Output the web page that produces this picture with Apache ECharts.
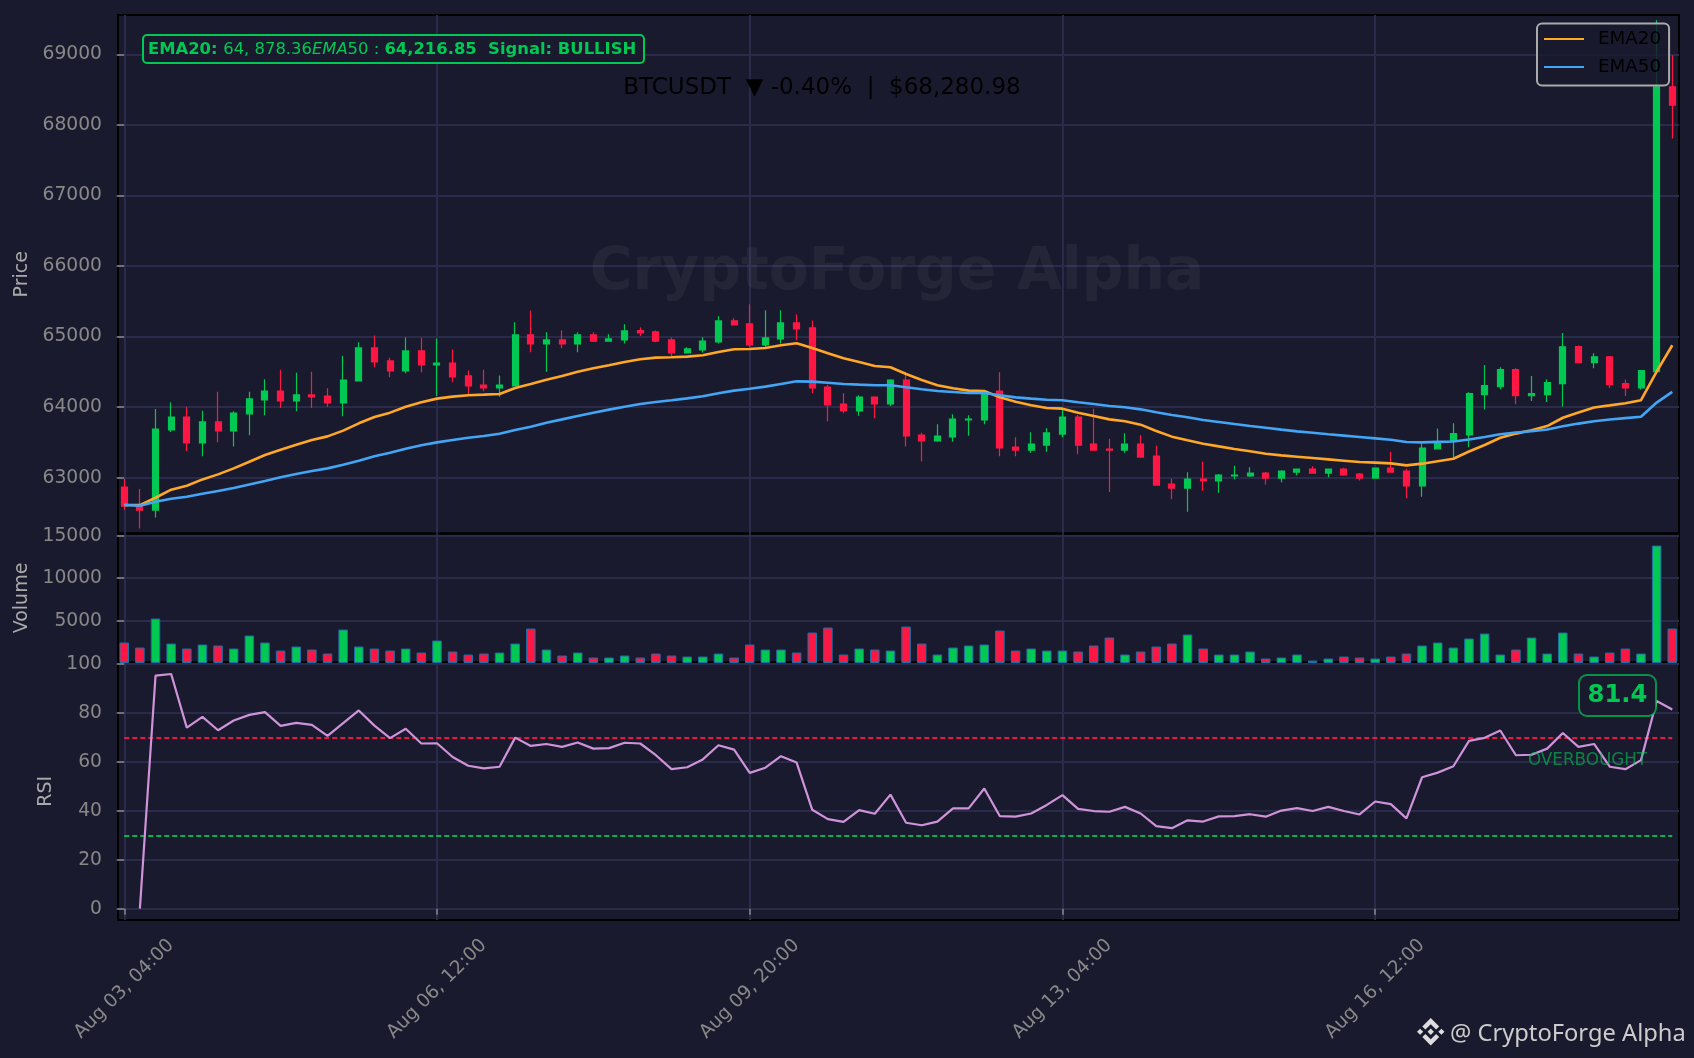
<!DOCTYPE html>
<html><head><meta charset="utf-8">
<style>html,body{margin:0;padding:0;background:#1a1a2e}#c{width:1694px;height:1058px}</style>
<script src="https://cdn.jsdelivr.net/npm/echarts@6/dist/echarts.min.js"></script>
</head><body><div id="c"></div>
<script>
const tickIndexes = [0, 20, 40, 60, 80];
const tickLabels = ['Aug 03, 04:00', 'Aug 06, 12:00', 'Aug 09, 20:00', 'Aug 13, 04:00', 'Aug 16, 12:00'];
const opens = [62868,62612,62541,63676,63860,63492,63790,63662,63903,64102,64229,64087,64173,64158,64059,64371,64839,64655,64513,64797,64598,64626,64442,64314,64272,64300,65024,64896,64953,64896,65024,64934,64953,65085,65066,64953,64768,64811,64924,65222,65180,64882,64967,65194,65123,64286,64045,63946,64144,64045,64385,63605,63520,63577,63818,63818,64229,63435,63392,63463,63619,63860,63478,63407,63392,63478,63307,62910,62853,62981,62953,63024,63024,63066,62995,63080,63123,63066,63123,63052,62995,63137,63095,62882,63410,63518,63605,64177,64289,64533,64162,64177,64333,64860,64631,64714,64333,64274,64504,68542];
const closes = [62598,62541,63690,63860,63492,63790,63662,63917,64116,64229,64087,64173,64144,64059,64385,64839,64641,64513,64797,64598,64626,64428,64300,64272,64314,65024,64896,64953,64896,65024,64934,64967,65080,65052,64934,64768,64825,64938,65222,65165,64882,64981,65194,65109,64272,64031,63946,64144,64045,64385,63591,63520,63591,63832,63832,64187,63421,63392,63478,63634,63860,63463,63392,63392,63478,63293,62896,62853,62981,62953,63038,63038,63066,62995,63095,63123,63066,63123,63038,62995,63137,63080,62882,63421,63503,63625,64191,64304,64533,64162,64191,64348,64856,64631,64714,64318,64274,64519,68542,68281];
const lows = [62541,62281,62437,63648,63374,63303,63501,63444,63600,63884,63988,63941,63988,64007,63870,64365,64565,64423,64480,64494,64158,64352,64173,64225,64149,64295,64778,64503,64834,64778,64924,64929,64901,65009,64920,64721,64759,64773,64901,65160,64849,64849,64901,64948,64196,63799,63913,63879,63842,64017,63444,63232,63515,63511,63596,63756,63303,63303,63355,63369,63572,63331,63388,62797,63355,63284,62892,62693,62518,62816,62787,62976,63009,62905,62934,63033,63061,63005,63028,62962,62991,63075,62707,62731,63405,63283,63430,63967,64255,64040,64089,64074,64011,64625,64553,64270,64157,64245,64500,67810];
const highs = [62981,62839,63974,64069,64007,63950,64220,63941,64220,64395,64532,64489,64503,64267,64730,64920,65014,64702,64986,64981,64972,64816,64518,64532,64447,65203,65369,65061,65085,65061,65061,65033,65175,65132,65085,64986,64849,64990,65288,65260,65459,65373,65373,65317,65227,64319,64196,64168,64154,64395,64503,63638,63756,63898,63884,64196,64494,63572,63643,63700,63960,63889,63979,63553,63629,63600,63454,62986,63076,63227,63052,63170,63147,63080,63104,63130,63161,63132,63142,63066,63137,63369,63128,63487,63698,63772,64211,64597,64567,64553,64440,64397,65051,64875,64763,64724,64392,64524,69485,68987];
const ema20 = [62612,62612,62716,62830,62887,62976,63047,63132,63227,63322,63397,63468,63534,63586,63667,63771,63860,63922,64007,64069,64121,64149,64168,64177,64187,64272,64329,64390,64442,64503,64551,64593,64641,64678,64702,64707,64716,64735,64782,64820,64825,64839,64877,64905,64839,64764,64693,64641,64584,64565,64470,64385,64310,64267,64234,64229,64139,64078,64026,63988,63979,63922,63875,63827,63799,63752,63662,63582,63530,63482,63444,63407,63374,63340,63317,63298,63279,63260,63241,63222,63213,63203,63175,63199,63234,63269,63371,63464,63566,63625,63674,63732,63850,63923,63996,64025,64055,64099,64504,64878];
const ema50 = [62612,62603,62660,62702,62731,62773,62811,62853,62905,62953,63005,63052,63095,63132,63184,63241,63303,63355,63411,63459,63501,63534,63567,63591,63624,63676,63723,63780,63827,63875,63922,63965,64007,64045,64073,64097,64125,64154,64196,64234,64262,64291,64329,64366,64362,64347,64329,64319,64310,64310,64281,64253,64229,64215,64201,64201,64168,64139,64121,64106,64097,64069,64045,64017,63998,63969,63927,63889,63856,63818,63790,63761,63733,63709,63681,63657,63638,63615,63596,63577,63558,63539,63506,63501,63508,63513,63542,63576,63615,63640,63659,63684,63728,63767,63801,63825,63845,63864,64065,64217];
const volumes = [2430,1842,5253,2313,1725,2195,2078,1725,3254,2430,1490,1960,1607,1137,3959,1960,1725,1490,1725,1254,2666,1372,1019,1137,1254,2313,4077,1607,902,1254,666,666,902,666,1137,902,784,784,1137,666,2195,1607,1607,1254,3606,4194,1019,1725,1607,1490,4312,2313,1019,1842,2078,2195,3842,1490,1725,1490,1490,1372,2078,3018,1019,1372,1960,2313,3371,1725,1019,1019,1372,549,666,1019,314,549,784,666,549,784,1137,2078,2430,1842,2901,3489,1019,1607,3018,1137,3606,1137,784,1254,1725,1137,13838,4077];
const rsi = [null,0,95.2,95.9,74.0,78.4,72.9,76.9,79.2,80.3,74.7,75.9,75.1,70.6,75.8,81.0,74.8,69.7,73.5,67.5,67.6,62.0,58.4,57.3,58.0,69.9,66.5,67.3,66.1,67.9,65.4,65.6,67.8,67.5,62.7,57.0,57.8,61.0,66.8,65.0,55.5,57.6,62.3,59.7,40.4,36.6,35.5,40.3,38.8,46.6,35.1,34.1,35.6,41.0,41.0,49.1,37.8,37.6,38.9,42.4,46.4,40.8,39.9,39.6,41.6,38.9,33.7,32.9,36.1,35.6,37.7,37.8,38.6,37.6,40.1,41.1,39.9,41.6,39.9,38.5,43.8,42.7,36.9,53.7,55.6,58.2,68.6,69.8,72.8,62.7,62.9,65.4,71.8,66.1,67.3,58.0,57.0,60.7,84.9,81.4];
const priceTicks = [63000,64000,65000,66000,67000,68000,69000];
const volumeTicks = [5000,10000,15000];
const rsiTicks = [0,20,40,60,80,100];
const rsiLevels = [70, 30];
const titleText = 'BTCUSDT  ▼ -0.40%  |  $68,280.98';

const UP='#00c853', DOWN='#ff1744', BG='#1a1a2e', GRID='#2a2a4a', TICK='#888888', NAME='#aaaaaa', FF='"DejaVu Sans"';
const chart = echarts.init(document.getElementById('c'), null, {renderer:'canvas', width:1694, height:1058});
const xBase = {type:'value', min:-0.4, max:99.43, axisLine:{show:false},
  splitLine:{show:true, lineStyle:{color:GRID, width:2}}};
const xAxes = [0,1,2].map(g => Object.assign({}, xBase, {gridIndex:g,
  axisTick: g===2 ? {show:true, length:6, lineStyle:{color:TICK, width:1.5}, customValues:tickIndexes} : {show:false, customValues:tickIndexes},
  axisLabel: g===2 ? {show:true, customValues:tickIndexes, rotate:45, align:'center', verticalAlign:'middle', margin:69, color:TICK, fontFamily:FF, fontSize:18.7,
      formatter:v=>tickLabels[tickIndexes.indexOf(v)]} : {show:false}
}));
const yAxis = (g,min,max,ticks,name,gap)=>({type:'value', gridIndex:g, min, max, axisLine:{show:false},
  name, nameLocation:'middle', nameGap:gap, nameTextStyle:{color:NAME, fontFamily:FF, fontSize:19},
  axisTick:{show:true, length:7.5, lineStyle:{color:TICK, width:1.5}, customValues:ticks},
  axisLabel:{show:true, customValues:ticks, margin:16, color:TICK, fontFamily:FF, fontSize:18.7, padding:[4,0,0,0], formatter:v=>String(v)},
  splitLine:{show:true, lineStyle:{color:GRID, width:2}}});
const idx = opens.map((_,i)=>i);
const pair = a => a.map((v,i)=>[i,v]);
const gridBase = {show:true, left:118, width:1561, borderColor:'#000', borderWidth:2, backgroundColor:'transparent', containLabel:false};
const logoShapes = [
 [[38.73,53.2],[63.32,28.62],[87.92,53.22],[102.22,38.91],[63.32,0],[24.42,38.9]],
 [[0,63.31],[14.3,49],[28.61,63.31],[14.3,77.61]],
 [[38.73,73.41],[63.32,98],[87.92,73.4],[102.23,87.69],[63.33,126.6],[24.42,87.72]],
 [[98,63.31],[112.3,49],[126.61,63.3],[112.3,77.62]],
 [[77.83,63.3],[63.32,48.78],[48.81,63.28],[63.32,77.78]]
];
chart.setOption({
  animation:false, backgroundColor:BG,
  textStyle:{fontFamily:FF},
  grid:[Object.assign({top:15,height:518.5},gridBase),Object.assign({top:533.5,height:129},gridBase),Object.assign({top:662.5,height:257.5},gridBase)],
  xAxis:xAxes,
  yAxis:[yAxis(0,62209,69559,priceTicks,'Price',84),yAxis(1,82,15259,volumeTicks,'Volume',84),yAxis(2,-4.63,100.6,rsiTicks,'RSI',61)],
  legend:{left:1537,top:23.5,orient:'vertical',data:['EMA20','EMA50'],icon:'path://M0 0H40V2.2H0Z',itemWidth:40,itemHeight:2.2,itemGap:7,padding:[5,8,8,7],
    backgroundColor:'rgba(26,26,46,0.85)',borderColor:'#aaaaaa',borderWidth:2,borderRadius:5,
    textStyle:{color:'#000',fontFamily:FF,fontSize:18.3,padding:[0,0,0,9],height:21,lineHeight:21},z:50},
  series:[
    {type:'candlestick',name:'BTCUSDT',xAxisIndex:0,yAxisIndex:0,barWidth:6.5,z:2,
     itemStyle:{color:UP,color0:DOWN,borderColor:UP,borderColor0:DOWN,borderWidth:1.2},
     data:idx.map(i=>[i,opens[i],closes[i],lows[i],highs[i]])},
    {type:'line',name:'EMA20',xAxisIndex:0,yAxisIndex:0,data:pair(ema20),symbol:'none',z:4,lineStyle:{color:'#ffa726',width:2.6},itemStyle:{color:'#ffa726'}},
    {type:'line',name:'EMA50',xAxisIndex:0,yAxisIndex:0,data:pair(ema50),symbol:'none',z:4,lineStyle:{color:'#42a5f5',width:2.6},itemStyle:{color:'#42a5f5'}},
    {type:'bar',name:'Volume',xAxisIndex:1,yAxisIndex:1,barWidth:9.5,z:2,
     data:idx.map(i=>({value:[i,volumes[i]],itemStyle:{color:closes[i]>=opens[i]?UP:DOWN,borderColor:'#1f6fa8',borderWidth:1}}))},
    {type:'line',name:'RSI',xAxisIndex:2,yAxisIndex:2,data:rsi.map((v,i)=>[i,v]),symbol:'none',z:3,connectNulls:false,lineStyle:{color:'#ce93d8',width:2.2},
     markLine:{silent:true,symbol:'none',label:{show:false},z:3,
       data:[[{coord:[0,rsiLevels[0]],lineStyle:{color:DOWN,type:[5,3],width:1.8,opacity:.9}},{coord:[99,rsiLevels[0]]}],
             [{coord:[0,rsiLevels[1]],lineStyle:{color:UP,type:[5,3],width:1.8,opacity:.9}},{coord:[99,rsiLevels[1]]}]]}}
  ],
  graphic:[
    {type:'text',z:1,silent:true,style:{text:'CryptoForge Alpha',x:897,y:274,align:'center',verticalAlign:'middle',fill:'rgba(255,255,255,0.05)',font:'bold 58.3px "DejaVu Sans"'}},
    {type:'rect',z:60,silent:true,shape:{x:143,y:35,width:501,height:28,r:4},style:{fill:BG,stroke:UP,lineWidth:2}},
    {type:'text',z:61,silent:true,style:{x:148,y:50,verticalAlign:'middle',fill:UP,
       text:'{b|EMA20: }{r|64, 878.36}{i|EMA}{r|50 : }{b|64,216.85  Signal: BULLISH}',
       rich:{b:{fontFamily:FF,fontSize:16.4,fontWeight:'bold',fill:UP,color:UP},r:{fontFamily:FF,fontSize:16.4,fill:UP,color:UP},i:{fontFamily:FF,fontSize:16.4,fontStyle:'italic',fill:UP,color:UP}}}},
    {type:'text',z:61,silent:true,style:{text:titleText,x:822,y:88,align:'center',verticalAlign:'middle',fill:'#000',font:'23px "DejaVu Sans"'}},
    {type:'rect',z:60,silent:true,shape:{x:1579,y:675,width:77,height:41,r:8},style:{fill:BG,stroke:'rgba(0,200,83,0.7)',lineWidth:2}},
    {type:'text',z:61,silent:true,style:{text:'81.4',x:1617.5,y:696,align:'center',verticalAlign:'middle',fill:UP,font:'bold 24.3px "DejaVu Sans"'}},
    {type:'text',z:61,silent:true,style:{text:'OVERBOUGHT',x:1587.5,y:761,align:'center',verticalAlign:'middle',fill:'rgba(0,200,83,0.6)',font:'16.8px "DejaVu Sans"'}},
    {type:'group',x:1417,y:1018,scaleX:0.2172,scaleY:0.2172,z:61,silent:true,children:logoShapes.map(p=>({type:'polygon',z:61,silent:true,shape:{points:p},style:{fill:'#dddddd'}}))},
    {type:'text',z:61,silent:true,style:{text:'@ CryptoForge Alpha',x:1450,y:1034,verticalAlign:'middle',fill:'#cccccc',font:'23.7px "Noto Sans"',shadowColor:'rgba(0,0,0,.5)',shadowBlur:2,shadowOffsetX:1,shadowOffsetY:1}}
  ]
});
</script></body></html>
